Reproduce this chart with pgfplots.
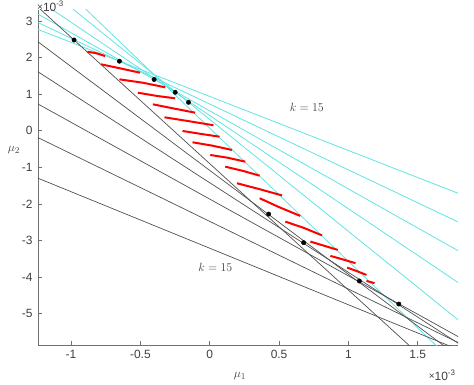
\documentclass[border=0pt]{standalone}
\usepackage[no-math]{fontspec}
\usepackage{pgfplots}
\pgfplotsset{compat=1.18}
\newfontfamily\arialfont{Liberation Sans}
\definecolor{axgray}{HTML}{707070}
\definecolor{txtgray}{HTML}{404040}
\definecolor{lgray}{HTML}{505050}
\definecolor{cyanl}{HTML}{60E4E4}
\begin{document}
\begin{tikzpicture}[x=1bp,y=1bp]
\path[use as bounding box] (-38,-39) rectangle (436,345);
\begin{axis}[at={(0,0)}, anchor=south west, scale only axis, width=420bp, height=335bp,
  xmin=-1.238, xmax=1.79, ymin=-5.86, ymax=3.3,
  axis lines=left, axis line style={-, axgray, line width=0.6bp},
  tick align=inside, major tick length=4bp, tick style={axgray, line width=0.6bp},
  xtick={-1,-0.5,0,0.5,1,1.5}, xticklabels={-1,-0.5,0,0.5,1,1.5},
  ytick={-5,-4,-3,-2,-1,0,1,2,3}, yticklabels={-5,-4,-3,-2,-1,0,1,2,3},
  ticklabel style={font=\arialfont\fontsize{12}{14}\selectfont, text=txtgray},
  xticklabel style={yshift=-2bp},
  yticklabel style={xshift=-2bp},
  clip=true]
% cyan lines
\addplot[cyanl, line width=0.8bp] coordinates {(-1.3,2.86) (1.9,-1.873)};
\addplot[cyanl, line width=0.8bp] coordinates {(-1.3,3.068) (1.9,-2.692)};
\addplot[cyanl, line width=0.8bp] coordinates {(-1.3,3.320) (1.9,-3.515)};
\addplot[cyanl, line width=0.8bp] coordinates {(-1.3,3.73) (1.9,-4.43)};
\addplot[cyanl, line width=0.8bp] coordinates {(-1.3,4.286) (1.9,-5.506)};
\addplot[cyanl, line width=0.8bp] coordinates {(-1.3,4.804) (1.9,-6.85)};
% gray lines
\addplot[lgray, line width=0.7bp] coordinates {(-1.3,3.593) (1.9,-7.469)};
\addplot[lgray, line width=0.7bp] coordinates {(-1.3,2.606) (1.9,-6.482)};
\addplot[lgray, line width=0.7bp] coordinates {(-1.3,1.762) (1.9,-6.078)};
\addplot[lgray, line width=0.7bp] coordinates {(-1.3,0.860) (1.9,-5.860)};
\addplot[lgray, line width=0.7bp] coordinates {(-1.3,-0.075) (1.9,-5.995)};
\addplot[lgray, line width=0.7bp] coordinates {(-1.3,-1.204) (1.9,-6.151)};
% red hatching
\addplot[red, line width=2bp] coordinates {(-0.882,2.158) (-0.82,2.12) (-0.7545,2.041)};
\addplot[red, line width=2bp] coordinates {(-0.783,1.814) (-0.64,1.70) (-0.502,1.585)};
\addplot[red, line width=2bp] coordinates {(-0.651,1.404) (-0.48,1.31) (-0.321,1.186)};
\addplot[red, line width=2bp] coordinates {(-0.518,1.038) (-0.38,0.95) (-0.249,0.885)};
\addplot[red, line width=2bp] coordinates {(-0.410,0.721) (-0.25,0.60) (-0.105,0.492)};
\addplot[red, line width=2bp] coordinates {(-0.326,0.366) (-0.15,0.26) (0.027,0.148)};
\addplot[red, line width=2bp] coordinates {(-0.196,-0.008) (-0.06,-0.09) (0.071,-0.164)};
\addplot[red, line width=2bp] coordinates {(-0.124,-0.317) (0.02,-0.41) (0.160,-0.527)};
\addplot[red, line width=2bp] coordinates {(0.004,-0.664) (0.13,-0.74) (0.256,-0.847)};
\addplot[red, line width=2bp] coordinates {(0.112,-0.984) (0.24,-1.10) (0.360,-1.230)};
\addplot[red, line width=2bp] coordinates {(0.196,-1.437) (0.36,-1.60) (0.521,-1.770)};
\addplot[red, line width=2bp] coordinates {(0.360,-1.847) (0.50,-2.09) (0.653,-2.331)};
\addplot[red, line width=2bp] coordinates {(0.545,-2.486) (0.68,-2.66) (0.810,-2.863)};
\addplot[red, line width=2bp] coordinates {(0.726,-3.033) (0.82,-3.14) (0.923,-3.260)};
\addplot[red, line width=2bp] coordinates {(0.870,-3.423) (0.96,-3.52) (1.051,-3.623)};
\addplot[red, line width=2bp] coordinates {(0.991,-3.743) (1.06,-3.84) (1.130,-3.943)};
\addplot[red, line width=2bp] coordinates {(1.130,-4.107) (1.188,-4.169)};
% dots
\addplot[only marks, mark=*, mark size=2.2bp, black] coordinates {
(-0.978,2.48) (-0.651,1.90) (-0.401,1.40) (-0.249,1.05) (-0.153,0.776)
(0.425,-2.28) (0.677,-3.06) (1.079,-4.11) (1.363,-4.74)};
% labels
\node[text=txtgray, font=\fontsize{12}{14}\selectfont] at (axis cs:0.70,0.63) {$k=15$};
\node[text=txtgray, font=\fontsize{12}{14}\selectfont] at (axis cs:0.04,-3.73) {$k=15$};
\end{axis}
\node[text=txtgray, font=\fontsize{13}{15}\selectfont] at (202,-31) {$\mu_1$};
\node[text=txtgray, font=\fontsize{13}{15}\selectfont] at (-24,195) {$\mu_2$};
\node[text=txtgray, font=\arialfont\fontsize{12}{14}\selectfont, anchor=base east] at (421,-35) {\raisebox{1bp}{\fontsize{10}{12}\selectfont×}10\textsuperscript{-3}};
\node[text=txtgray, font=\arialfont\fontsize{12}{14}\selectfont, anchor=base west, inner sep=0pt] at (-1,334) {\raisebox{1bp}{\fontsize{10}{12}\selectfont×}10\textsuperscript{-3}};
\end{tikzpicture}
\end{document}
